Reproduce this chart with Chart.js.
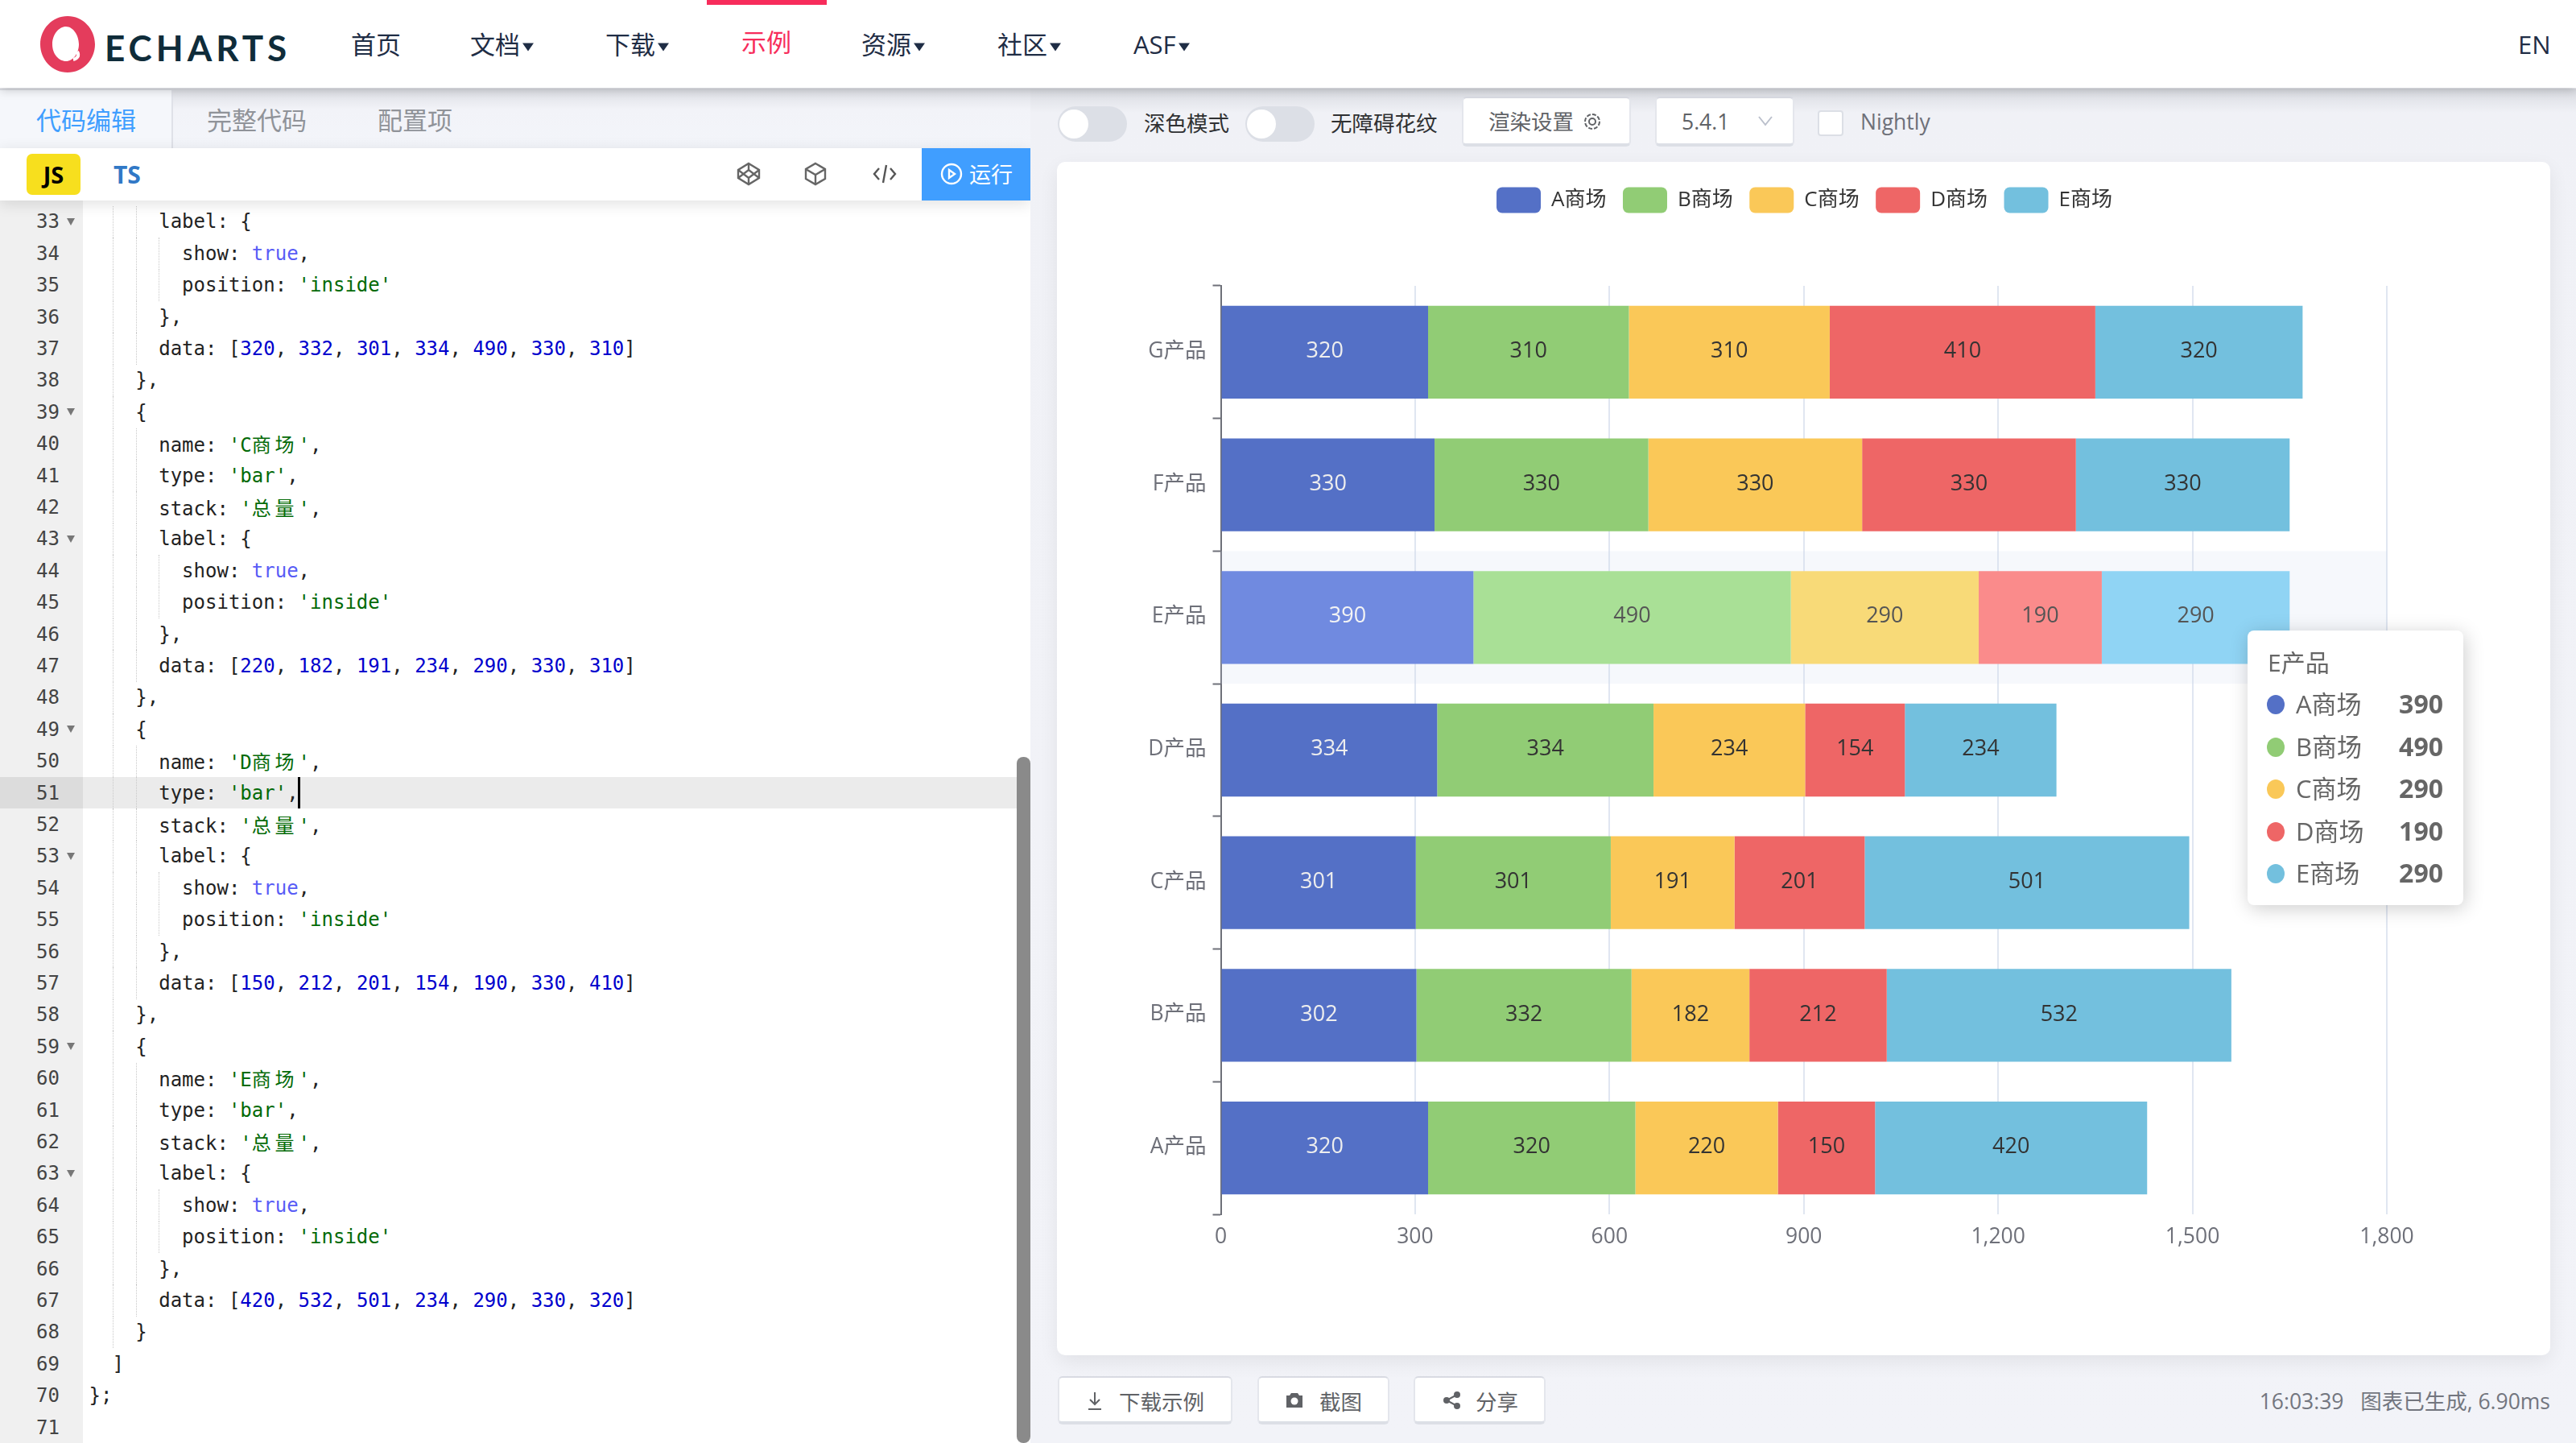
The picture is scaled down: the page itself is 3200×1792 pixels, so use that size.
<!DOCTYPE html>
<html lang="zh"><head><meta charset="utf-8"><title>ECharts 示例</title>
<script src="https://cdn.jsdelivr.net/npm/chart.js@4"></script>
<style>
html,body{margin:0;padding:0;width:3200px;height:1792px;overflow:hidden;background:#f2f3f8;font-family:"Open Sans","Noto Sans CJK SC",sans-serif}
.a{position:absolute;white-space:nowrap;line-height:1}
.mid{transform:translateY(-50%)}
#nav{position:absolute;left:0;top:0;width:3200px;height:109px;background:#fff;box-shadow:0 2px 12px rgba(0,0,0,.22);z-index:5}
.nv{font-size:31px;color:#1f2d45;top:55px}
.nv i{display:inline-block;width:0;height:0;border-left:7px solid transparent;border-right:7px solid transparent;border-top:10px solid #1f2d45;margin-left:3px;vertical-align:middle}
#left{position:absolute;left:0;top:110px;width:1280px;height:1682px;background:#fff;overflow:hidden}
#tabs{position:absolute;left:0;top:0;width:1280px;height:74px;background:linear-gradient(#dcdee4 0,#f2f3f8 26px,#f3f5fa 100%)}
#bar{position:absolute;left:0;top:74px;width:1280px;height:65px;background:#fff;box-shadow:0 4px 18px rgba(0,0,0,.12);z-index:3}
#code{position:absolute;left:0;top:0;width:1280px;height:1792px;z-index:1;font-family:"DejaVu Sans Mono","Noto Sans CJK SC",monospace;font-size:24px}
#gutter{position:absolute;left:0;top:249px;width:103px;height:1543px;background:#f0f0f0}
.ln{position:absolute;left:0;width:74px;text-align:right;color:#444;line-height:1}
.cl{position:absolute;left:110.5px;white-space:pre;color:#222;line-height:1}
.cl .k{color:#585cf6}.cl .s{color:#036a07}.cl .n{color:#0000cd}.cl .c{letter-spacing:4.8px;font-family:"Noto Sans CJK SC"}
.fold{position:absolute;left:83px;width:0;height:0;border-left:5.5px solid transparent;border-right:5.5px solid transparent;border-top:9px solid #777}
.guide{position:absolute;width:0;height:39.4px;border-left:1.5px dotted #c8c8c8}
#right{position:absolute;left:1280px;top:110px;width:1920px;height:1682px;background:linear-gradient(#d9dbe1 0,#f0f1f6 30px,#f2f3f8 100%)}
.btn{position:absolute;background:#fff;border:2px solid #e4e6ec;border-top-color:#d8dae2;border-bottom-width:4px;border-bottom-color:#dcdfe6;border-radius:6px;box-sizing:border-box}
.txt{font-size:26.5px;color:#606266}
.tgl{position:absolute;width:86px;height:44px;border-radius:22px;background:#dcdfe6}
.tgl:after{content:"";position:absolute;left:2px;top:4px;width:36px;height:36px;border-radius:18px;background:#fff}
#card{position:absolute;left:1313px;top:201px;width:1855px;height:1482px;background:#fff;border-radius:10px;box-shadow:0 8px 24px rgba(0,0,0,.07)}
#tip{position:absolute;left:2792px;top:783px;width:268px;height:341px;background:#fff;border-radius:8px;box-shadow:2px 4px 24px rgba(0,0,0,.2);z-index:4;color:#666;font-size:31px}
#tip .dot{position:absolute;left:24px;width:22px;height:24px;border-radius:50%}
</style></head><body>
<div id="nav">
 <div class="a" style="left:878px;top:0;width:149px;height:6px;background:#f72c5b"></div>
 <svg class="a" style="left:44px;top:14px" width="84" height="82" viewBox="0 0 84 82"><path fill="#e43c5c" fill-rule="evenodd" d="M40 6C59 6 74 22 74 41S59 76 40 76 6 60 6 41 21 6 40 6ZM38 19C29 19 21 29 21 41S29 62 38 62 54 52 54 41 47 19 38 19Z"/><path d="M52 50c3 5 0 9-5 10" stroke="#fff" stroke-width="4" fill="none"/></svg>
 <div class="a" style="left:130px;top:33px;font:700 44px Lato,sans-serif;letter-spacing:5px;color:#0f2c3a">ECHARTS</div>
 <div class="a nv mid" style="left:436px">首页</div>
 <div class="a nv mid" style="left:584px">文档<i></i></div>
 <div class="a nv mid" style="left:752px">下载<i></i></div>
 <div class="a nv mid" style="left:921px;top:52px;color:#f72c5b">示例</div>
 <div class="a nv mid" style="left:1070px">资源<i></i></div>
 <div class="a nv mid" style="left:1239px">社区<i></i></div>
 <div class="a nv mid" style="left:1408px">ASF<i></i></div>
 <div class="a nv mid" style="left:3128px">EN</div>
</div>
<div id="left">
 <div id="tabs">
  <div class="a" style="left:0;top:2px;width:213px;height:72px;background:#f5f7fb;border-right:2px solid #dfe1e8"></div>
  <div class="a mid" style="left:45px;top:39px;font-size:31px;color:#409eff">代码编辑</div>
  <div class="a mid" style="left:257px;top:39px;font-size:31px;color:#909399">完整代码</div>
  <div class="a mid" style="left:469px;top:39px;font-size:31px;color:#909399">配置项</div>
 </div>
 <div id="bar">
  <div class="a" style="left:33px;top:7px;width:67px;height:51px;background:#f7df1e;border-radius:7px;color:#000;font:700 29px/51px 'Open Sans';text-align:center">JS</div>
  <div class="a" style="left:141px;top:7px;color:#3178c6;font:700 30px/51px 'Open Sans'">TS</div>
  <svg class="a" style="left:915px;top:17px" width="30" height="30" viewBox="0 0 30 30" fill="none" stroke="#666" stroke-width="2.4"><path d="M15 2 28 10v10L15 28 2 20V10ZM15 2v8M15 20v8M2 10l13 10 13-10M2 20l13-10 13 10"/></svg>
  <svg class="a" style="left:998px;top:17px" width="30" height="30" viewBox="0 0 30 30" fill="none" stroke="#666" stroke-width="2.4"><path d="M15 2 27 9v12l-12 7-12-7V9ZM3 9l12 7 12-7M15 16v12"/></svg>
  <svg class="a" style="left:1084px;top:19px" width="30" height="26" viewBox="0 0 30 26" fill="none" stroke="#555" stroke-width="2.4"><path d="M8 6 2 13l6 7M22 6l6 7-6 7M17 2l-4 22"/></svg>
  <div class="a" style="left:1145px;top:0;width:135px;height:65px;background:#409eff"></div>
  <svg class="a" style="left:1168px;top:18px" width="28" height="28" viewBox="0 0 28 28" fill="none" stroke="#fff" stroke-width="2.4"><circle cx="14" cy="14" r="12"/><path d="M11 9l7 5-7 5Z"/></svg>
  <div class="a mid" style="left:1204px;top:32px;font-size:27px;color:#fff">运行</div>
 </div>
</div>
<div id="code"><div id="gutter"></div></div>
<div class="a" style="left:1263px;top:940px;width:17px;height:852px;background:#8a8a8a;border-radius:8px;z-index:2"></div>
<div id="right"></div>
<div class="tgl" style="left:1314px;top:132px"></div>
<div class="a txt mid" style="left:1421px;top:153px;color:#303133">深色模式</div>
<div class="tgl" style="left:1547px;top:132px"></div>
<div class="a txt mid" style="left:1653px;top:153px;color:#303133">无障碍花纹</div>
<div class="btn" style="left:1816px;top:120px;width:210px;height:62px"></div>
<div class="a txt mid" style="left:1849px;top:151px">渲染设置</div>
<svg class="a" style="left:1967px;top:140px" width="22" height="22" viewBox="0 0 22 22" fill="none" stroke="#606266" stroke-width="2"><circle cx="11" cy="11" r="4"/><circle cx="11" cy="11" r="9" stroke-dasharray="5 2"/></svg>
<div class="btn" style="left:2056px;top:120px;width:173px;height:62px"></div>
<div class="a txt mid" style="left:2089px;top:151px">5.4.1</div>
<svg class="a" style="left:2183px;top:143px" width="20" height="14" viewBox="0 0 20 14" fill="none" stroke="#bbc0cc" stroke-width="2"><path d="M2 2l8 10 8-10"/></svg>
<div class="a" style="left:2258px;top:137px;width:32px;height:32px;box-sizing:border-box;background:#fff;border:2px solid #dcdfe6;border-radius:4px"></div>
<div class="a txt mid" style="left:2311px;top:151px;color:#6e7079">Nightly</div>
<div id="card"><canvas id="c" width="1855" height="1482" style="display:block;width:1855px;height:1482px"></canvas></div>
<div id="tip"></div>
<div class="btn" style="left:1314px;top:1709px;width:217px;height:60px"></div>
<svg class="a" style="left:1348px;top:1727px" width="24" height="26" viewBox="0 0 24 26" fill="none" stroke="#606266" stroke-width="2"><path d="M12 2v14M6 11l6 6 6-6M4 23h16"/></svg>
<div class="a txt mid" style="left:1390px;top:1741px">下载示例</div>
<div class="btn" style="left:1562px;top:1709px;width:164px;height:60px"></div>
<svg class="a" style="left:1596px;top:1727px" width="24" height="24" viewBox="0 0 24 24"><path fill="#606266" d="M8 3h8l2 3h4v15H2V6h4Z"/><circle cx="12" cy="13" r="4.5" fill="#fff"/></svg>
<div class="a txt mid" style="left:1639px;top:1741px">截图</div>
<div class="btn" style="left:1756px;top:1709px;width:164px;height:60px"></div>
<svg class="a" style="left:1792px;top:1727px" width="24" height="24" viewBox="0 0 24 24" fill="#606266" stroke="#606266" stroke-width="2"><path d="M18 5 5 12l13 7" fill="none"/><circle cx="18" cy="5" r="3"/><circle cx="5" cy="12" r="3"/><circle cx="18" cy="19" r="3"/></svg>
<div class="a txt mid" style="left:1833px;top:1741px">分享</div>
<div class="a txt mid" style="right:32px;top:1740px;font-size:26.5px;color:#73767f">16:03:39 &nbsp;&nbsp;图表已生成, 6.90ms</div>
<script>
const categories=['A产品','B产品','C产品','D产品','E产品','F产品','G产品'];
const seriesNames=['A商场','B商场','C商场','D商场','E商场'];
const seriesA=[320,302,301,334,390,330,320];
const seriesB=[320,332,301,334,490,330,310];
const seriesC=[220,182,191,234,290,330,310];
const seriesD=[150,212,201,154,190,330,410];
const seriesE=[420,532,501,234,290,330,320];
const seriesValues=[seriesA,seriesB,seriesC,seriesD,seriesE];
const colors=['#5470c6','#91cc75','#fac858','#ee6666','#73c0de'];
const hoverColors=['#708ae0','#a9e096','#f8da78','#fa8b8b','#90d4f4'];
const labelColors=['#eeeeee','#333333','#333333','#333333','#333333'];
const hoverLabelColors=['#f4f4f4','#555555','#555555','#555555','#555555'];
const xTicks=[0,300,600,900,1200,1500,1800];
const hoverIndex=categories.indexOf('E产品');
const FONT='"Open Sans","Noto Sans CJK SC",sans-serif';

const bandPlugin={id:'band',beforeDatasetsDraw(chart){
  const {ctx,chartArea:a,scales:{y}}=chart;
  const h=(a.bottom-a.top)/categories.length, c=y.getPixelForValue(hoverIndex);
  ctx.save();ctx.fillStyle='rgba(210,219,238,0.2)';ctx.fillRect(a.left,c-h/2,a.right-a.left,h);ctx.restore();
}};
const labelPlugin={id:'inside',afterDatasetsDraw(chart){
  const {ctx}=chart;ctx.save();
  ctx.font='27px '+FONT;ctx.textAlign='center';ctx.textBaseline='middle';
  chart.data.datasets.forEach((d,si)=>{
    chart.getDatasetMeta(si).data.forEach((el,i)=>{
      const p=el.getProps(['x','y','base'],true);
      ctx.fillStyle=(i===hoverIndex?hoverLabelColors:labelColors)[si];
      ctx.fillText(String(d.data[i]),(p.x+p.base)/2,p.y-1);
    });
  });
  ctx.restore();
}};
const legendFit={id:'legendFit',
 beforeLayout(chart){const l=chart.legend;if(l&&!l._patched){const f=l.fit;l.fit=function(){f.call(this);this.height=143;};l._patched=true;}},
 beforeDraw(chart){const l=chart.legend;l.left=0;l.right=chart.width+2;}};

new Chart(document.getElementById('c'),{
 type:'bar',
 data:{labels:categories,datasets:seriesNames.map((n,i)=>({label:n,data:seriesValues[i],
   backgroundColor:categories.map((_,k)=>k===hoverIndex?hoverColors[i]:colors[i]),
   borderWidth:0,barPercentage:0.7,categoryPercentage:1}))},
 plugins:[bandPlugin,labelPlugin,legendFit],
 options:{indexAxis:'y',responsive:false,animation:false,devicePixelRatio:1,
  layout:{padding:{left:0,top:11,right:203,bottom:0}},
  plugins:{tooltip:{enabled:false},title:{display:false},
   legend:{display:true,position:'top',labels:{boxWidth:55,boxHeight:32,useBorderRadius:true,borderRadius:7,padding:20.5,color:'#333',font:{size:26,family:FONT}}}},
  scales:{
   x:{stacked:true,min:0,max:1800,afterBuildTicks(s){s.ticks=xTicks.map(v=>({value:v}));},afterFit(s){s.height=175;},
      border:{display:false},grid:{color:'#e0e6f1',lineWidth:2,drawTicks:false},
      ticks:{color:'#6e7079',font:{size:26.5,family:FONT},padding:13,maxRotation:0,callback:v=>v.toLocaleString('en-US')}},
   y:{stacked:true,reverse:true,afterFit(s){s.width=203.5;},
      border:{display:true,color:'#6e7079',width:2},
      grid:{drawOnChartArea:false,offset:true,drawTicks:true,tickLength:10,tickWidth:2,tickColor:'#6e7079'},
      ticks:{color:'#6e7079',font:{size:26.5,family:FONT},padding:8,autoSkip:false,labelOffset:-1}}
  }}
});

/* tooltip */
const tip=document.getElementById('tip');
let th='<div class="a mid" style="left:25px;top:40px;color:#666;font-size:30px">'+categories[hoverIndex]+'</div>';
seriesNames.forEach((n,i)=>{
  const y=92+i*52.5;
  th+='<div class="dot" style="top:'+(y-12)+'px;background:'+colors[i]+'"></div>'+
      '<div class="a mid" style="left:60px;top:'+(y-1)+'px">'+n+'</div>'+
      '<div class="a mid" style="right:25px;top:'+(y-1)+'px;font-weight:700;font-size:32px">'+seriesValues[i][hoverIndex]+'</div>';
});
tip.innerHTML=th;

/* code pane */
const codeLines=[
"      label: {","        show: true,","        position: 'inside'","      },",
"      data: [320, 332, 301, 334, 490, 330, 310]","    },","    {",
"      name: 'C商场',","      type: 'bar',","      stack: '总量',","      label: {",
"        show: true,","        position: 'inside'","      },",
"      data: [220, 182, 191, 234, 290, 330, 310]","    },","    {",
"      name: 'D商场',","      type: 'bar',","      stack: '总量',","      label: {",
"        show: true,","        position: 'inside'","      },",
"      data: [150, 212, 201, 154, 190, 330, 410]","    },","    {",
"      name: 'E商场',","      type: 'bar',","      stack: '总量',","      label: {",
"        show: true,","        position: 'inside'","      },",
"      data: [420, 532, 501, 234, 290, 330, 320]","    }","  ]","};",""];
const firstLine=33, activeLine=51, foldLines=[33,39,43,49,53,59,63];
const code=document.getElementById('code');
function tok(s){
  return s.replace(/'[^']*'|\btrue\b|\b\d+\b/g,m=>{
    if(m==='true')return '<span class="k">true</span>';
    if(m[0]==="'")return '<span class="s">'+m.replace(/[\u4e00-\u9fff]/g,c=>'<span class="c">'+c+'</span>')+'</span>';
    return '<span class="n">'+m+'</span>';
  });
}
let h='';
const topOf=n=>256.8+(n-33)*39.4;
h+='<div style="position:absolute;left:0;top:'+(topOf(activeLine)-1)+'px;width:103px;height:39.4px;background:#dcdcdc"></div>';
h+='<div style="position:absolute;left:103px;top:'+(topOf(activeLine)-1)+'px;width:1160px;height:39.4px;background:#ebebeb"></div>';
codeLines.forEach((t,i)=>{
  const n=firstLine+i, y=topOf(n);
  h+='<div class="ln" style="top:'+(y+6.5)+'px">'+n+'</div>';
  const ind=t.match(/^ */)[0].length;
  for(let c=2;c<ind;c+=2)h+='<div class="guide" style="left:'+(111+c*14.4)+'px;top:'+(y-1)+'px"></div>';
  if(foldLines.includes(n))h+='<div class="fold" style="top:'+(y+14)+'px"></div>';
  h+='<div class="cl" style="top:'+(y+6.5)+'px">'+tok(t)+'</div>';
});
h+='<div style="position:absolute;left:370px;top:'+(topOf(activeLine)-1)+'px;width:3px;height:39.4px;background:#000"></div>';
code.insertAdjacentHTML('beforeend',h);
</script>
</body></html>
